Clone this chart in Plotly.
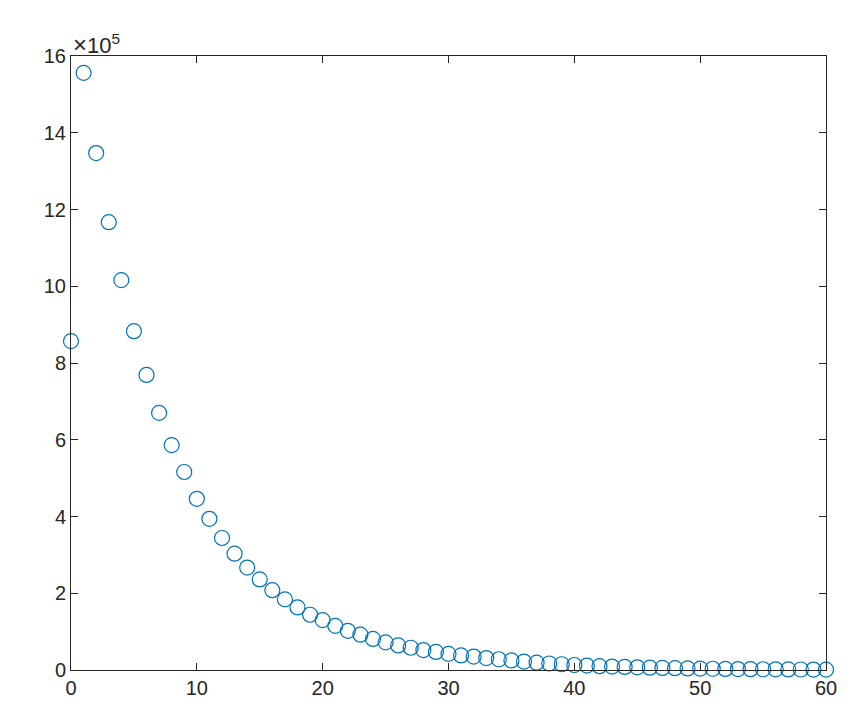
import plotly.graph_objects as go

# values, in units of 1e5
x_vals = list(range(61))
y_scaled = [8.57, 15.56, 13.47, 11.67, 10.16, 8.83, 7.69, 6.70, 5.86, 5.16,
            4.46, 3.94, 3.44, 3.03, 2.67, 2.36, 2.08, 1.84, 1.63, 1.44,
            1.30, 1.15, 1.02, 0.92, 0.81, 0.72, 0.64, 0.58, 0.52, 0.47,
            0.42, 0.38, 0.35, 0.31, 0.28, 0.25, 0.22, 0.19, 0.17, 0.15,
            0.13, 0.115, 0.10, 0.09, 0.08, 0.07, 0.06, 0.053, 0.047, 0.041,
            0.036, 0.032, 0.028, 0.025, 0.022, 0.019, 0.017, 0.015, 0.013, 0.011,
            0.010]
y_vals = [v * 1e5 for v in y_scaled]

y_ticks = [0, 2, 4, 6, 8, 10, 12, 14, 16]
x_ticks = [0, 10, 20, 30, 40, 50, 60]

axcol = '#262626'
fnt = dict(family='Liberation Sans, Arial, sans-serif', size=20, color=axcol)

fig = go.Figure()
fig.add_trace(go.Scatter(x=x_vals, y=y_vals, mode='markers', cliponaxis=False,
                         marker=dict(symbol='circle-open', size=15, color='#0072BD',
                                     line=dict(width=1.2, color='#0072BD'))))

# page body has an 8px margin, so pull the plot area back by that much
fig.update_layout(width=865, height=724, margin=dict(l=63, r=47, t=48, b=62),
                  paper_bgcolor='white', plot_bgcolor='white', showlegend=False,
                  font=fnt)
fig.update_xaxes(range=[0, 60], tickvals=x_ticks, ticks='inside', ticklen=7,
                 tickcolor=axcol, showline=True, linecolor=axcol, linewidth=1,
                 mirror='ticks', showgrid=False, zeroline=False, tickfont=fnt)
fig.update_yaxes(range=[0, 16e5], tickvals=[t * 1e5 for t in y_ticks],
                 ticktext=[str(t) for t in y_ticks], ticks='inside', ticklen=7,
                 tickcolor=axcol, showline=True, linecolor=axcol, linewidth=1,
                 mirror='ticks', showgrid=False, zeroline=False, tickfont=fnt)
fig.add_annotation(text='<span style="font-size:24px">\u00d7</span>10<sup>5</sup>',
                   xref='paper', yref='paper',
                   x=0, y=1, xanchor='left', yanchor='bottom', showarrow=False,
                   font=dict(family=fnt['family'], size=22, color=axcol), yshift=-4)

fig.write_html("out.html")
